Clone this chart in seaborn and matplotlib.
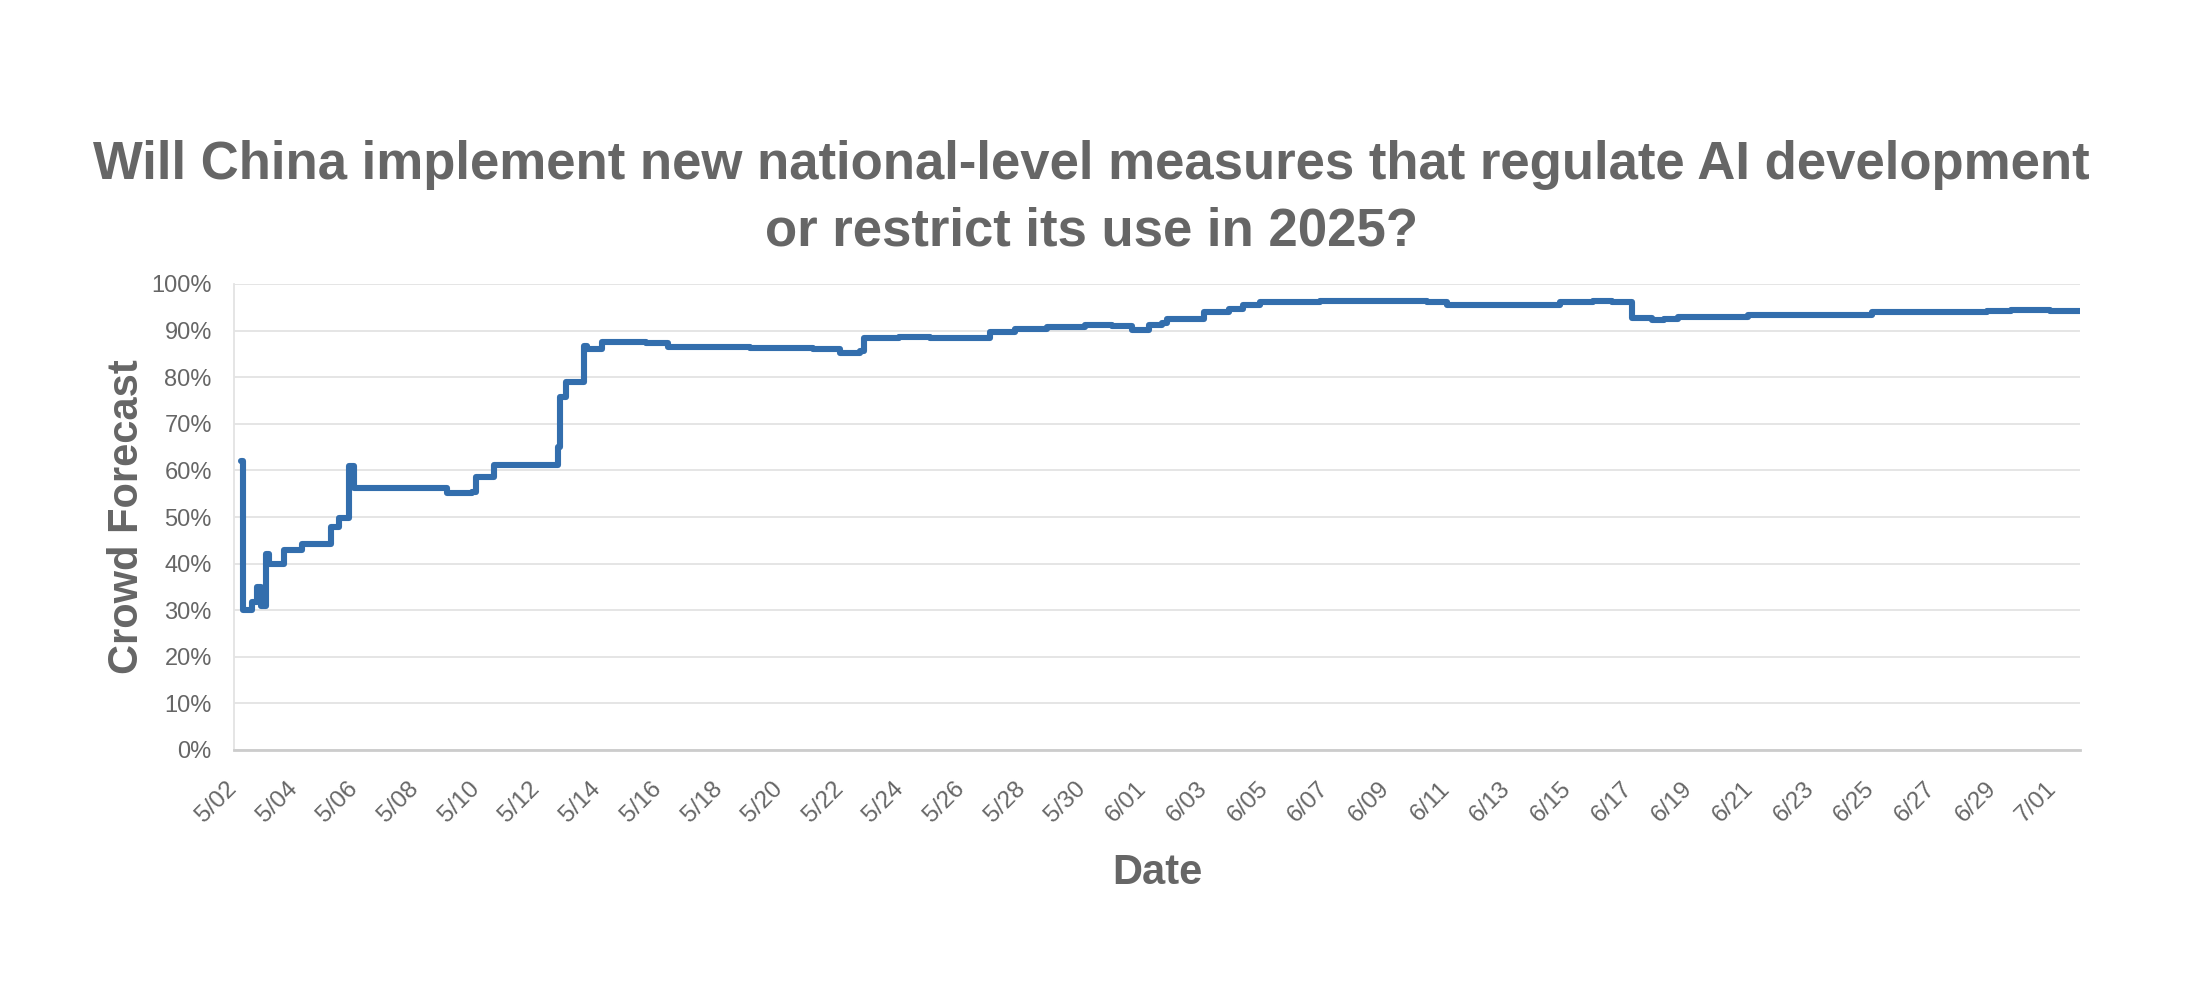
import pandas as pd
import seaborn as sns
import matplotlib.pyplot as plt
import matplotlib.dates as mdates
from matplotlib.ticker import PercentFormatter

# step changes of the crowd forecast
change_times = [
    '2025-05-02 00:00', '2025-05-02 01:30', '2025-05-02 09:00', '2025-05-02 12:30',
    '2025-05-02 15:30', '2025-05-02 19:30', '2025-05-02 22:00', '2025-05-03 10:00',
    '2025-05-04 00:30', '2025-05-04 23:00', '2025-05-05 05:15', '2025-05-05 13:15',
    '2025-05-05 17:45', '2025-05-08 19:00', '2025-05-09 14:45', '2025-05-09 18:00',
    '2025-05-10 08:30', '2025-05-12 10:45', '2025-05-12 12:00', '2025-05-12 17:15',
    '2025-05-13 07:15', '2025-05-13 09:30', '2025-05-13 21:30', '2025-05-15 08:45',
    '2025-05-16 02:00', '2025-05-18 18:30', '2025-05-20 20:15', '2025-05-21 17:30',
    '2025-05-22 09:30', '2025-05-22 13:15', '2025-05-23 16:45', '2025-05-24 16:45',
    '2025-05-26 16:30', '2025-05-27 12:30', '2025-05-28 13:30', '2025-05-29 20:00',
    '2025-05-30 17:00', '2025-05-31 09:00', '2025-05-31 22:00', '2025-06-01 08:45',
    '2025-06-01 12:30', '2025-06-02 17:30', '2025-06-03 13:15', '2025-06-04 01:00',
    '2025-06-04 14:30', '2025-06-06 13:45', '2025-06-10 02:15', '2025-06-10 18:00',
    '2025-06-14 11:45', '2025-06-15 14:00', '2025-06-16 04:30', '2025-06-16 20:30',
    '2025-06-17 12:15', '2025-06-17 21:30', '2025-06-18 09:00', '2025-06-20 16:30',
    '2025-06-24 18:30', '2025-06-27 08:30', '2025-06-28 13:30', '2025-06-29 08:00',
    '2025-06-30 15:30', '2025-07-01 15:00',
]
forecast = [
    62.0, 30.0, 31.8, 35.0,
    31.0, 42.0, 40.0, 43.0,
    44.2, 47.9, 49.8, 61.0,
    56.3, 55.1, 55.4, 58.5,
    61.2, 65.0, 75.8, 79.0,
    86.8, 86.1, 87.5, 87.3,
    86.4, 86.3, 86.1, 85.3,
    85.6, 88.5, 88.6, 88.4,
    89.6, 90.4, 90.8, 91.2,
    90.9, 90.1, 91.3, 91.7,
    92.4, 93.9, 94.6, 95.6,
    96.2, 96.35, 96.2, 95.5,
    96.2, 96.4, 96.2, 92.8,
    92.3, 92.5, 93.0, 93.3,
    93.9, 94.0, 94.2, 94.4,
    94.1, 94.1,
]
tick_dates = pd.date_range('2025-05-02', '2025-07-01', freq='2D')
x_start = '2025-05-01 18:30'
x_end = '2025-07-01 15:00'

title = ('Will China implement new national-level measures that regulate AI development\n'
         'or restrict its use in 2025?')

df = pd.DataFrame({'Date': pd.to_datetime(change_times), 'Crowd Forecast': forecast})

sns.set_style('white')
plt.rcParams['font.family'] = ['Liberation Sans', 'DejaVu Sans']
grey = '#666666'

fig = plt.figure(figsize=(22, 10), dpi=100)
ax = fig.add_axes([0.1064, 0.25, 0.8391, 0.466])

sns.lineplot(data=df, x='Date', y='Crowd Forecast', ax=ax, color='#336ead',
             linewidth=4.4, drawstyle='steps-post')

ax.set_ylim(0, 100)
ax.set_yticks(range(0, 101, 10))
ax.yaxis.set_major_formatter(PercentFormatter(decimals=0))
ax.set_xlim(pd.Timestamp(x_start), pd.Timestamp(x_end))
ax.set_xticks(tick_dates)
ax.xaxis.set_major_formatter(mdates.DateFormatter('%-m/%d'))

ax.grid(axis='y', color='#e3e3e3', linewidth=1.3)
ax.set_axisbelow(True)
for side in ['top', 'right']:
    ax.spines[side].set_visible(False)
ax.spines['left'].set_color('#e3e3e3')
ax.spines['left'].set_linewidth(1.3)
ax.spines['bottom'].set_color('#cccccc')
ax.spines['bottom'].set_linewidth(2)

ax.tick_params(axis='y', length=11, width=1.3, color='#e3e3e3', pad=5,
               labelsize=17, labelcolor=grey)
ax.tick_params(axis='x', length=0, pad=20, labelsize=17.5, labelcolor=grey)
plt.setp(ax.get_xticklabels(), rotation=45, ha='right')

ax.set_xlabel('Date', fontsize=30, fontweight='bold', color=grey, labelpad=19)
ax.set_ylabel('Crowd Forecast', fontsize=30, fontweight='bold', color=grey)
ax.yaxis.set_label_coords(-0.047, 0.5)

fig.text(0.496, 0.755, title, ha='center', va='baseline', multialignment='center',
         fontsize=38, fontweight='bold', color=grey, linespacing=1.42)

plt.savefig('out.png', dpi=100)
